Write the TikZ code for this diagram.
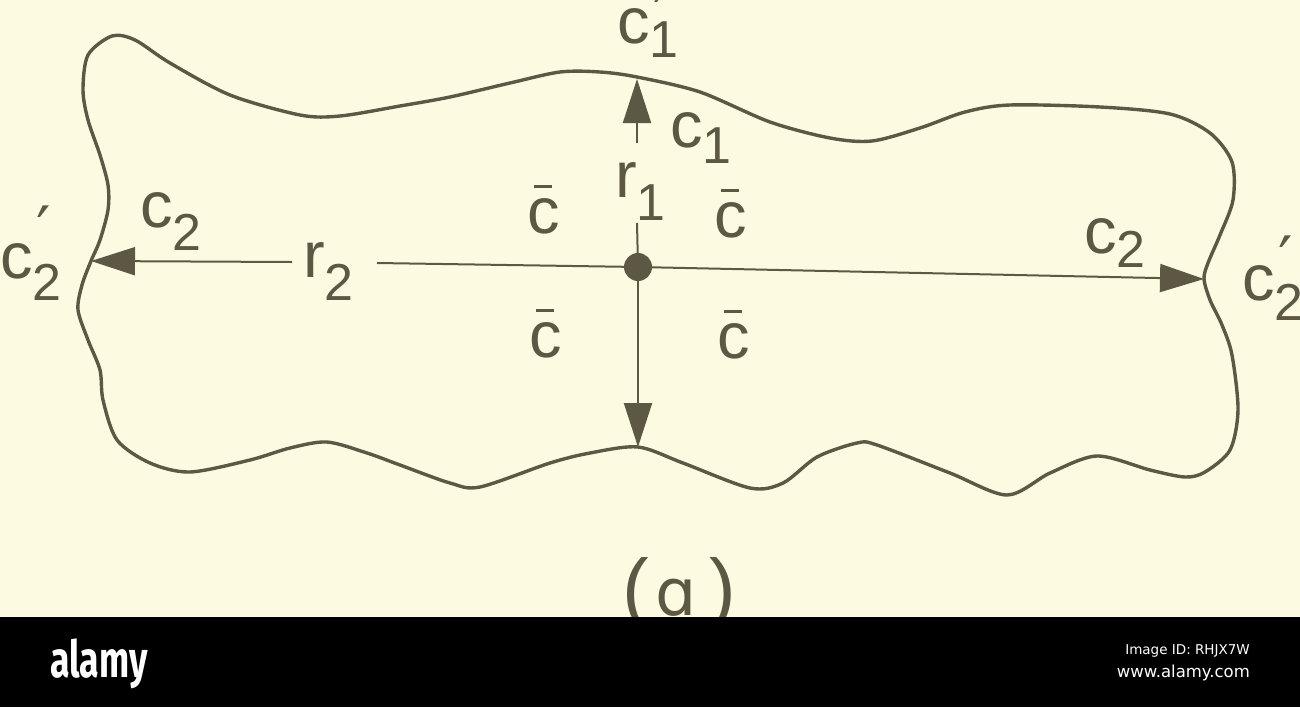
\documentclass[tikz,border=0pt]{standalone}
\usepackage{fontspec}
\usetikzlibrary{arrows.meta}
\newfontfamily\labfam{Liberation Sans}
\newfontfamily\dvfam{DejaVu Sans}
\newfontfamily\logofam{Fira Sans}
\definecolor{paper}{RGB}{252,251,226}
\definecolor{ink}{RGB}{92,88,68}
\newcommand\LF{\labfam\fontsize{65}{65}\selectfont}
\newcommand\SB[2]{\raisebox{#1}{\fontsize{52}{52}\selectfont #2}}
\newcommand\PR[2]{\rlap{\hspace{#1}\raisebox{#2}{\dvfam\fontsize{64}{64}\selectfont ′}}}
\newcommand\CB{\rlap{\hspace{7pt}\rule[45pt]{18pt}{3pt}}c}
\tikzset{
  lab/.style={font=\LF, text=ink, inner sep=0pt, anchor=base west},
  outline/.style={draw=ink, line width=3.4pt},
  shaft/.style={draw=ink, line width=2pt},
  arr/.style={draw=ink, line width=2pt, -{Triangle[length=44pt,width=28pt]}},
}
\begin{document}
\begin{tikzpicture}[x=1pt,y=-1pt,line join=round]
\useasboundingbox (0,0) rectangle (1300,707);
\fill[paper] (0,0) rectangle (1300,707);

% boundary
\draw[outline] plot[smooth cycle, tension=0.5] coordinates {
 (112,36) (135,40) (170,63) (230,95) (300,115) (340,116) (400,106) (450,97)
 (510,83) (560,72) (600,72) (637,77) (700,92) (770,122) (830,138) (872,141)
 (920,128) (965,112) (1010,105) (1100,107) (1170,114) (1210,133) (1232,162)
 (1233,200) (1220,235) (1208,263) (1204,279) (1210,300) (1222,325) (1232,355)
 (1238,410) (1230,450) (1205,472) (1185,477) (1150,470) (1097,456) (1050,473)
 (1007,495) (950,473) (877,445) (857,443) (817,457) (783,483) (750,488)
 (683,463) (638,447) (590,453) (550,463) (480,487) (450,483) (400,465)
 (367,453) (327,442) (290,448) (250,460) (190,472) (150,463) (117,440)
 (103,400) (100,370) (88,340) (78,310) (82,285) (91,261) (100,240) (108,210)
 (108,185) (100,155) (88,120) (83,90) (88,55)};

% centre and arrow ends
\node[circle, fill=ink, minimum size=28pt, inner sep=0pt] (o) at (638,267) {};
\coordinate (tipT) at (637,79);
\coordinate (tipB) at (638,447);
\coordinate (tipL) at (91,261);
\coordinate (tipR) at (1204,279);
\coordinate (r1lo) at (637,223);
\coordinate (r1hi) at (637,143);
\coordinate (r2l) at (292,262);
\coordinate (r2r) at (377,263);

\draw[shaft] (o) -- (r1lo);
\draw[arr] (r1hi) -- (tipT);
\draw[arr] (o) -- (tipB);
\draw[shaft] (o) -- (r2r);
\draw[arr] (r2l) -- (tipL);
\draw[arr] (o) -- (tipR);

% labels
\node[lab] (c1p) at (617,43) {c\PR{4pt}{6pt}\SB{-14pt}{1}};
\node[lab] (c1) at (670,147) {c\SB{-16pt}{1}};
\node[lab] (r1) at (615,197) {r\SB{-23pt}{1}};
\node[lab] (cbTL) at (527,233) {\CB};
\node[lab] (cbTR) at (714,237) {\CB};
\node[lab] (cbBL) at (529,357) {\CB};
\node[lab] (cbBR) at (717,358) {\CB};
\node[lab] (c2L) at (140,227) {c\SB{-23pt}{2}};
\node[lab] (r2) at (303,277) {r\SB{-23pt}{2}};
\node[lab] (c2R) at (1084,253) {c\SB{-14pt}{2}};
\node[lab] (c2pL) at (0,278) {c\PR{4pt}{26pt}\SB{-22pt}{2}};
\node[lab] (c2pR) at (1242,300) {c\PR{4pt}{18pt}\SB{-20pt}{2}};

% caption
\node[text=ink, inner sep=0pt, anchor=base west] (cap) at (622,615)
  {{\labfam\fontsize{80}{80}\selectfont (}\hspace{7pt}{\dvfam\fontsize{65}{65}\selectfont ɑ}\hspace{12pt}{\labfam\fontsize{80}{80}\selectfont )}};

% footer band
\fill[black] (0,617) rectangle (1300,707);
\node[text=white, inner sep=0pt, anchor=base west] (logo) at (50,677)
  {\scalebox{0.7}[1]{\logofam\bfseries\fontsize{51}{51}\selectfont alamy}};
\node[text=white, inner sep=0pt, anchor=base east] (imgid) at (1250,654)
  {\dvfam\fontsize{13.5}{14}\selectfont Image ID: RHJX7W};
\node[text=white, inner sep=0pt, anchor=base east] (www) at (1250,677)
  {\dvfam\fontsize{16.5}{17}\selectfont www.alamy.com};
\end{tikzpicture}
\end{document}
